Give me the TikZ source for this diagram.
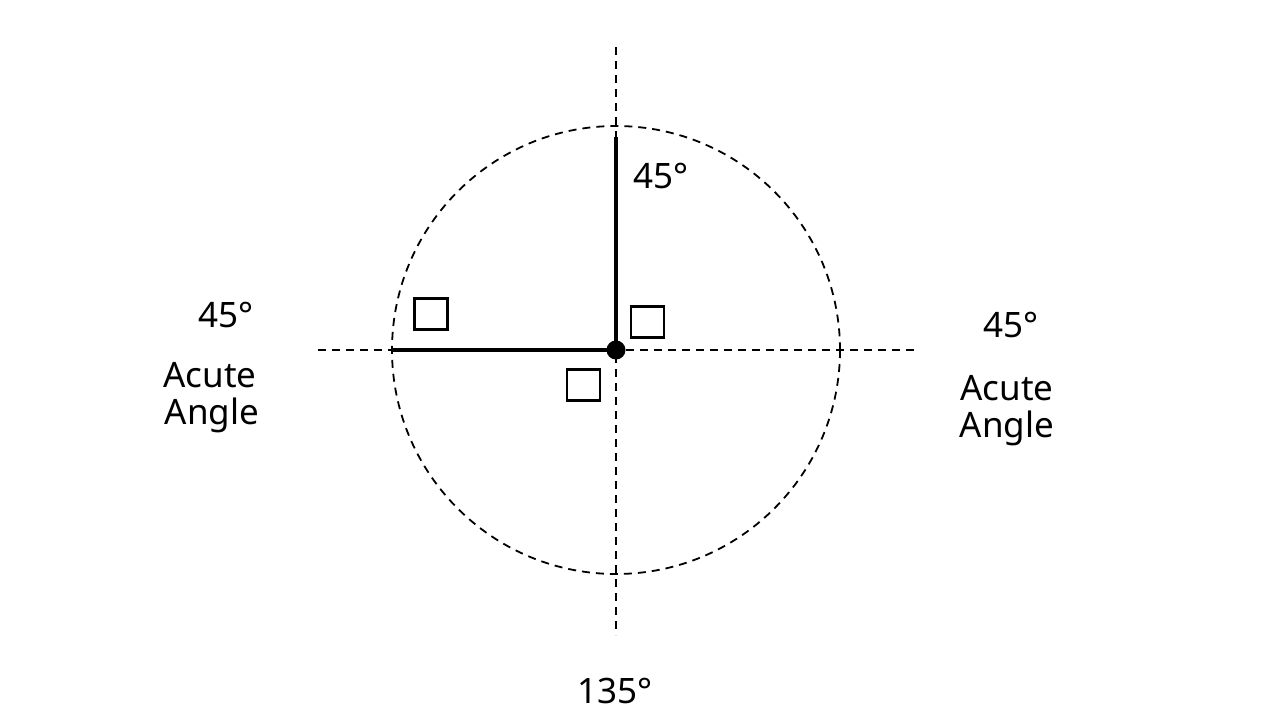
\documentclass[tikz,border=0pt]{standalone}
\usepackage{fontspec}
\setmainfont{Noto Sans}
\tikzset{
  guide/.style={line width=1.8pt, dash pattern=on 8pt off 6pt},
  ray/.style={line width=4pt},
  rightbox/.style={draw, line width=2.6pt, minimum width=33pt, minimum height=31pt, inner sep=0pt},
  lbl/.style={font=\fontsize{35}{37}\selectfont, inner sep=0pt, anchor=base},
}
\begin{document}
\begin{tikzpicture}[x=1pt,y=-1pt]
    \useasboundingbox[fill=white] (0,0) rectangle (1280,720);
    \coordinate (O) at (616,350);
    \coordinate (west) at (318,350);
    \coordinate (east) at (916,350);
    \coordinate (north) at (616,47);
    \coordinate (south) at (616,635);
    \coordinate (raytop) at (616,137);
    \coordinate (rayleft) at (392,350);
    % guide lines and circle
    \draw[guide] (west) -- (east);
    \draw[guide] (north) -- (south);
    \draw[guide] (O) circle[radius=224];
    % rays
    \draw[ray, line width=4.5pt] (O) -- (raytop);
    \draw[ray, line width=3.5pt] (O) -- (rayleft);
    \fill (O) circle[radius=9.5];
    % boxes
    \node[rightbox] (boxnw) at (431,314) {};
    \node[rightbox] (boxne) at (647.5,322) {};
    \node[rightbox] (boxsw) at (583.5,385) {};
    % labels
    \node[lbl] (topdeg) at (661,188) {45°};
    \node[lbl] (leftdeg) at (226,327) {45°};
    \node[lbl] (leftacute) at (210,387) {Acute};
    \node[lbl] (leftangle) at (212,424) {Angle};
    \node[lbl] (rightdeg) at (1011,337) {45°};
    \node[lbl] (rightacute) at (1007,400) {Acute};
    \node[lbl] (rightangle) at (1007,437) {Angle};
    \node[lbl] (bottomdeg) at (615,703) {135°};
\end{tikzpicture}
\end{document}
